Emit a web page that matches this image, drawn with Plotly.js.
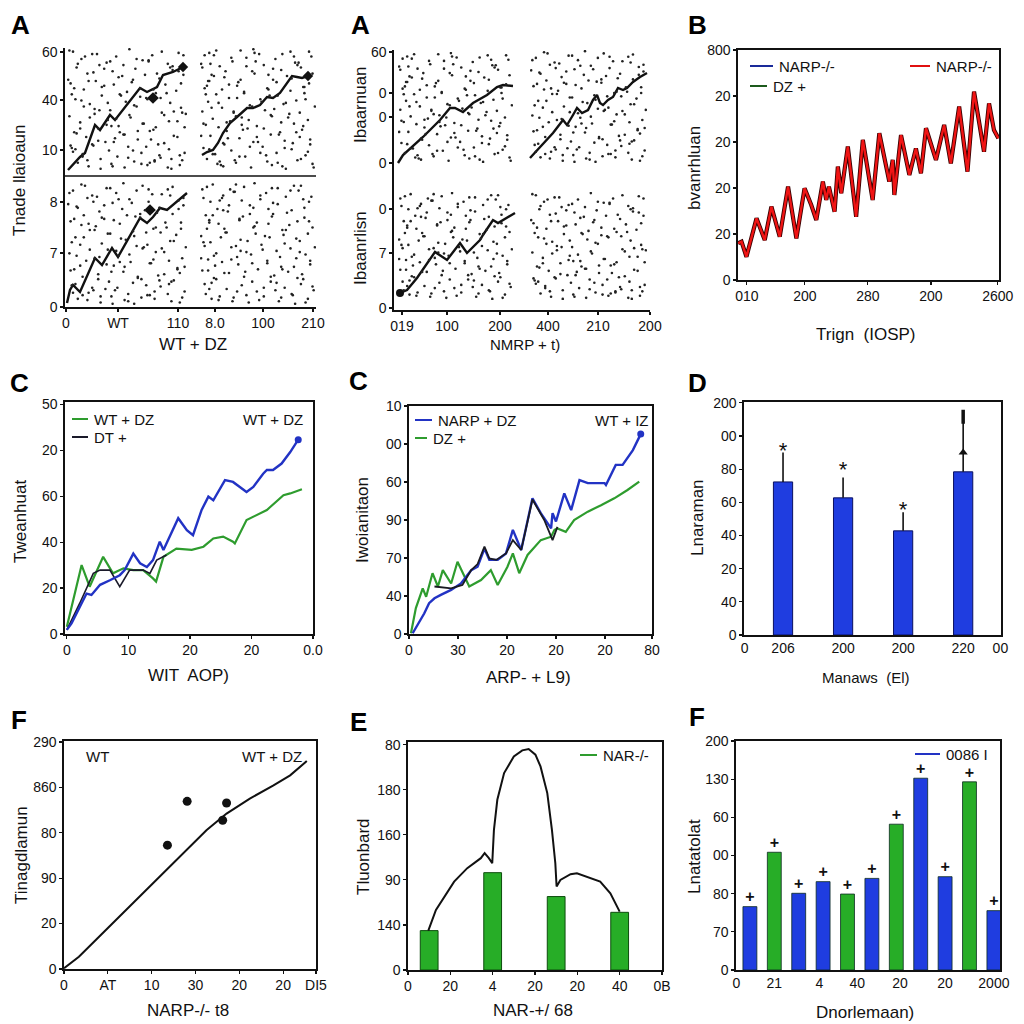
<!DOCTYPE html>
<html><head><meta charset="utf-8">
<script src="https://cdn.plot.ly/plotly-3.0.1.min.js"></script>
<style>html,body{margin:0;padding:0;background:#fff}#chart{width:1024px;height:1024px}</style>
</head><body><div id="chart"></div>
<script>
// ---------------- DATA ----------------
// Panel A (left) – main axes values
const a1TLx = [3,15,20,30,35,45,50,75,82,92,98,108,118];
const a1TLy = [137,150,154,182,177,192,187,219,215,220,232,235,240];
const a1TRx = [137,142,148,153,158,165,172,182,188,195,202,208,215,222,227,232,237,243];
const a1TRy = [152,155,157,164,174,184,190,199,199,202,210,209,214,224,231,230,229,231];
const a1BLx = [2,5,8,15,30,37,47,53,75,82,88,95,102,122];
const a1BLy = [4,17,22,15,49,42,59,50,89,84,90,99,97,114];
const a1BlobX = [88,85];
const a1BlobY = [209,97];
const a1Divider = 131;
const a1XTicks = [1,53,113,150,198,248];
const a1XLabels = ["0","WT","110","8.0","100","210"];
const a1YTicks = [0,54,105,157,207,255];
const a1YLabels = ["0","7","8","10","40","60"];

// Panel A (right)
const a2TLx = [4,9,29,46,56,61,69,79,93,103,109,119];
const a2TLy = [147,155,173,190,202,202,198,207,215,223,225,224];
const a2TRx = [136,146,159,169,173,179,183,188,194,199,203,206,209,214,219,224,229,233,239,246,253];
const a2TRy = [152,163,177,190,185,195,202,197,200,210,215,207,205,210,213,222,220,222,228,233,237];
const a2BLx = [6,13,23,33,41,53,66,73,86,89,99,104,113,121];
const a2BLy = [17,20,32,47,58,50,67,57,70,75,90,87,92,97];
const a2XTicks = [8,53,106,154,204,256];
const a2XLabels = ["019","100","200","400","210","200"];
const a2YTicks = [2,57,101,147,193,217,258];
const a2YLabels = ["0","7","0","0","0","0","60"];

// scatter texture (unit square) for the dotted sub-panels
const dotsU1 = [.05,.12,.21,.33,.41,.52,.63,.71,.84,.93,.08,.17,.27,.38,.46,.57,.68,.77,.88,.97,.03,.14,.24,.31,.44,.55,.61,.74,.82,.91,.07,.19,.29,.36,.49,.58,.66,.79,.86,.95,.02,.11,.23,.34,.43,.53,.64,.72,.81,.92,.06,.16,.26,.39,.47,.59,.69,.76,.89,.98,.04,.13,.22,.35,.42,.51,.62,.73,.85,.94,.09,.18,.28,.37,.48,.56,.67,.78,.87,.96];
const dotsV1 = [.97,.91,.95,.88,.93,.99,.90,.94,.87,.96,.84,.79,.86,.81,.77,.83,.89,.75,.82,.78,.71,.66,.73,.69,.62,.74,.67,.63,.70,.65,.58,.54,.61,.49,.56,.52,.59,.47,.55,.51,.44,.39,.46,.41,.36,.43,.38,.33,.45,.40,.31,.27,.34,.23,.29,.25,.32,.21,.28,.35,.18,.13,.20,.16,.11,.19,.14,.08,.17,.12,.06,.03,.09,.05,.02,.07,.04,.10,.01,.08];
const dotsU2 = [.15,.02,.36,.25,.58,.47,.79,.68,.97,.88,.22,.09,.43,.31,.65,.54,.86,.75,.01,.93,.29,.18,.50,.39,.72,.61,.95,.83,.06,.12,.34,.45,.23,.67,.56,.89,.78,.99,.14,.04,.41,.27,.63,.52,.85,.74,.96,.33,.19,.08,.48,.37,.70,.59,.92,.81,.11,.26,.03,.44,.55,.32,.77,.66,.98,.87,.21,.13,.07,.40,.62,.51,.84,.73,.94,.28,.17,.05,.38,.69];
const dotsV2 = [.93,.98,.89,.95,.91,.86,.97,.90,.94,.85,.80,.87,.76,.83,.78,.72,.84,.79,.74,.81,.68,.73,.64,.70,.66,.60,.71,.63,.67,.57,.55,.61,.50,.58,.53,.48,.59,.46,.52,.62,.42,.49,.38,.45,.40,.35,.47,.37,.43,.30,.29,.36,.25,.32,.27,.22,.34,.24,.20,.31,.16,.23,.12,.19,.14,.09,.21,.11,.17,.26,.05,.10,.02,.07,.04,.01,.08,.15,.03,.06];

// Panel B
const bX = [-6.9,-4.2,-0.3,7.7,14.2,19.5,26.1,32.7,39.3,45.8,51.1,55.1,60.3,63.0,65.1,69.6,72.2,74.9,80.1,86.7,92.0,99.8,105.1,113.0,115.7,117.0,122.3,128.9,134.1,138.1,142.1,150.0,156.5,161.8,168.4,175.0,180.2,188.1,192.1,196.0,199.5];
const bY = [16.0,16.7,10.1,26.8,17.4,31.9,18.8,40.6,18.1,39.9,32.6,26.1,42.8,34.8,40.6,29.7,49.3,37.7,58.0,27.5,60.9,34.8,63.8,42.8,52.2,37.0,63.0,45.7,57.2,46.4,66.0,52.2,67.4,50.7,75.4,47.1,81.9,55.8,76.8,65.2,61.6];
const bXTicks = [0,46,96,146,199];
const bXLabels = ["010","200","280","200","2600"];
const bYTicks = [0,20,40,60,80,100];
const bYLabels = ["0","20","20","20","20","800"];

// Panel C (left)
const c1BlueX = [0,0.76,2.1,3.2,4.0,5.4,7.0,8.6,9.4,10.8,11.9,13.0,14.0,15.1,15.7,16.7,18.1,19.5,20.5,21.9,23.0,23.8,25.7,27.0,29.2,30.3,31.9,32.5,33.5,34.9,36.3,37.6];
const c1BlueY = [0.9,2.3,5.9,8.8,8.5,10.7,11.7,12.8,13.9,17.5,15.4,14.6,16.1,20.1,18.3,21.2,25.2,22.6,21.5,27.0,29.9,29.1,33.5,33.1,30.9,32.0,34.9,35.7,35.7,37.1,39.6,42.3];
const c1GreenX = [0,0.76,2.4,3.7,5.9,7.5,9.2,10.8,12.4,14.0,14.5,15.7,16.2,17.8,20.3,21.1,22.2,23.8,25.4,27.0,27.3,29.2,30.3,32.5,35.2,36.3,38.2];
const c1GreenY = [1.6,5.9,15.0,10.3,16.8,13.2,14.3,13.9,13.9,12.1,11.4,16.8,17.2,18.6,18.3,18.6,19.0,20.8,21.2,20.1,19.7,24.8,25.5,27.0,30.2,30.6,31.5];
const c1DarkX = [0,2.1,4.3,5.4,7.0,8.6,10.2,12.4,13.5,14.6,16.2];
const c1DarkY = [0.9,6.7,13.2,13.9,13.9,10.3,13.9,13.9,13.2,16.1,17.2];
const c1XTicks = [0,10,20,30,40];
const c1XLabels = ["0","10","20","20","0.0"];
const c1YTicks = [0,10,20,30,40,50];
const c1YLabels = ["0","20","40","60","20","50"];

// Panel C (right)
const c2BlueX = [0.75,1.8,3.1,4.1,5.2,6.5,8.6,10.6,12.7,14.0,15.4,16.4,18.1,19.8,21.2,22.9,25.2,26.9,29.0,29.3,30.0,31.7,33.1,34.8,36.5,38.5,39.9,40.2,42.2,43.6,45.7,47.3];
const c2BlueY = [0.2,2.4,5.4,8.1,9.4,10.3,11.6,13.3,16.8,17.7,22.5,19.5,19.5,21.2,27.4,22.1,35.7,31.8,27.8,31.8,29.6,37.0,32.6,40.5,39.7,39.7,39.7,39.2,44.5,44.5,48.4,52.6];
const c2GreenX = [0.4,1.4,2.8,3.5,4.8,5.9,6.9,8.6,9.9,12.3,14.7,16.7,18.1,20.1,21.2,22.5,24.2,26.9,29.0,29.7,30.3,32.0,33.7,36.5,39.2,41.9,44.6,47.0];
const c2GreenY = [0.2,6.8,12.0,9.8,16.0,12.5,16.8,13.3,19.0,12.5,14.2,16.8,12.9,17.7,21.2,16.0,20.8,24.7,25.6,27.4,27.8,26.9,30.0,32.2,33.9,35.7,37.9,40.1];
const c2DarkX = [5.2,8.6,10.9,12.7,14.0,15.4,16.4,17.8,19.8,21.2,22.9,25.2,27.6,29.3,30.3];
const c2DarkY = [12.5,12.0,12.9,16.8,18.4,23.0,19.9,19.5,21.2,24.7,22.1,35.4,30.0,24.7,28.2];
const c2XTicks = [0,10,20,30,40,49.6];
const c2XLabels = ["0","30","20","20","20","80"];
const c2YTicks = [0,10,20,30,40,50,60];
const c2YLabels = ["0","40","70","90","60","00","10"];

// Panel D
const dX = [1,2,3,4];
const dVal = [92.3,82.7,62.8,98.4];
const dErrTop = [110,95,74,134.6];
const dStarX = [1,2,3];
const dStarY = [110.3,98.6,74.4];
const dArrowY = [110];
const dXTicks = [0.36,1,2,3,4,4.62];
const dXLabels = ["0","206","200","200","220","00"];
const dYTicks = [0,20,40,60,80,100,120,140];
const dYLabels = ["0","40","20","40","60","80","00","200"];

// Panel F (left)
const f1LineX = [0,0.34,0.80,1.57,2.18,2.79,3.25,3.71,4.24,4.78,5.16,5.54];
const f1LineY = [0.8,13.5,35.5,72.2,101.4,130.8,152.7,171.1,187.6,202.2,213.2,228.9];
const f1PtX = [2.36,2.81,3.62,3.71];
const f1PtY = [136.3,184.6,163.7,182.8];
const f1XTicks = [0,1,2,3,4,5,5.75];
const f1XLabels = ["0","AT","10","30","20","20","DI5"];
const f1YTicks = [0,50,100,150,200,250];
const f1YLabels = ["0","20","90","80","860","290"];

// Panel E
const eBarX = [0.5,2,3.5,5];
const eBarY = [43.7,108,81.5,64];
const eCurveX = [0.48,0.66,1.09,1.40,1.72,1.81,1.91,1.99,2.03,2.11,2.27,2.50,2.70,2.85,3.01,3.13,3.29,3.40,3.48,3.51,3.60,3.84,3.99,4.23,4.54,4.78,5.00];
const eCurveY = [43.7,66.7,98.1,113,124.1,129.6,124.1,118.5,155.6,188.9,218.5,237,243.7,245.2,238.9,225.9,196.3,155.6,118.5,92.6,100,106.3,107.4,103.7,98.1,85.2,64.8];
const eXTicks = [0,1,2,3,4,5,6];
const eXLabels = ["0","20","4","20","20","40","0B"];
const eYTicks = [0,50,100,150,200,250];
const eYLabels = ["0","140","90","160","180","80"];

// Panel F (right)
const f2X = [0,1,2,3,4,5,6,7,8,9,10];
const f2Val = [33.2,61.7,40.2,46.3,39.8,48.0,76.4,100.5,48.9,98.6,31.1];
const f2Plus = [37.6,66.2,44.6,50.8,44.2,52.4,80.8,104.6,53.3,102.8,35.5];
const f2Group = ["b","g","b","b","g","b","g","b","b","g","b"];
const f2XTicks = [-0.55,1,2.85,4.4,6.15,8,10];
const f2XLabels = ["0","21","4","40","20","20","2000"];
const f2YTicks = [0,20,40,60,80,100,120];
const f2YLabels = ["0","70","80","00","60","130","200"];

// ---------------- STYLE ----------------
const FONT = 'Liberation Sans, Arial, Helvetica, sans-serif';
const BLUE = '#2233c4', GREEN = '#2e9c2e', BLUEBAR = '#1f3de0', GREENBAR = '#27ad27';
const dxp = (a,b) => [a/1024, b/1024];
const dyp = (top,bottom) => [1-bottom/1024, 1-top/1024];

function axis(o){
  return Object.assign({showgrid:false, zeroline:false, showline:true, linecolor:'#111', linewidth:1.6,
    ticks:'outside', ticklen:3, tickwidth:1.2, tickcolor:'#111', tickmode:'array',
    tickfont:{family:FONT, size:14, color:'#111'}, fixedrange:true}, o);
}
function hidden(domX, domY, anchor){
  return [{domain:domX, range:[0,1], visible:false, anchor:'y'+anchor, fixedrange:true},
          {domain:domY, range:[0,1], visible:false, anchor:'x'+anchor, fixedrange:true}];
}

const layout = {
  width:1024, height:1024, margin:{l:0,r:0,t:0,b:0},
  paper_bgcolor:'#fff', plot_bgcolor:'rgba(0,0,0,0)', showlegend:false,
  font:{family:FONT, color:'#111'},
  xaxis: axis({domain:dxp(65,316), range:[0,251], anchor:'y', tickvals:a1XTicks, ticktext:a1XLabels}),
  yaxis: axis({domain:dyp(48,307), range:[0,259], anchor:'x', tickvals:a1YTicks, ticktext:a1YLabels}),
  xaxis2: axis({domain:dxp(394,650), range:[0,256], anchor:'y2', tickvals:a2XTicks, ticktext:a2XLabels}),
  yaxis2: axis({domain:dyp(50,310), range:[0,260], anchor:'x2', tickvals:a2YTicks, ticktext:a2YLabels}),
  xaxis3: axis({domain:dxp(738,999), range:[-7,200], anchor:'y3', mirror:true, tickvals:bXTicks, ticktext:bXLabels}),
  yaxis3: axis({domain:dyp(50,280), range:[0,100], anchor:'x3', mirror:true, tickvals:bYTicks, ticktext:bYLabels}),
  xaxis4: axis({domain:dxp(65,313), range:[-0.3,40], anchor:'y4', mirror:true, tickvals:c1XTicks, ticktext:c1XLabels}),
  yaxis4: axis({domain:dyp(402,634), range:[0,50.5], anchor:'x4', mirror:true, tickvals:c1YTicks, ticktext:c1YLabels}),
  xaxis5: axis({domain:dxp(409,652), range:[0,49.6], anchor:'y5', mirror:true, tickvals:c2XTicks, ticktext:c2XLabels}),
  yaxis5: axis({domain:dyp(406,634), range:[0,60], anchor:'x5', mirror:true, tickvals:c2YTicks, ticktext:c2YLabels}),
  xaxis6: axis({domain:dxp(744,1001), range:[0.35,4.63], anchor:'y6', mirror:true, ticks:'', tickvals:dXTicks, ticktext:dXLabels}),
  yaxis6: axis({domain:dyp(402,635), range:[0,140.5], anchor:'x6', mirror:true, tickvals:dYTicks, ticktext:dYLabels}),
  xaxis7: axis({domain:dxp(64,316), range:[0,5.75], anchor:'y7', mirror:true, tickvals:f1XTicks, ticktext:f1XLabels}),
  yaxis7: axis({domain:dyp(741,969), range:[0,251], anchor:'x7', mirror:true, tickvals:f1YTicks, ticktext:f1YLabels}),
  xaxis8: axis({domain:dxp(408,662), range:[0,6], anchor:'y8', mirror:true, tickvals:eXTicks, ticktext:eXLabels}),
  yaxis8: axis({domain:dyp(742,970), range:[0,253], anchor:'x8', mirror:true, tickvals:eYTicks, ticktext:eYLabels}),
  xaxis9: axis({domain:dxp(736,1000), range:[-0.57,10.25], anchor:'y9', mirror:true, ticks:'', tickvals:f2XTicks, ticktext:f2XLabels}),
  yaxis9: axis({domain:dyp(741,970), range:[0,120], anchor:'x9', mirror:true, tickvals:f2YTicks, ticktext:f2YLabels}),
  shapes:[], annotations:[]
};

// dotted sub-panels (A left: 10-13, A right: 14-17)
const subDomains = [
  [dxp(67,187), dyp(48,170)], [dxp(200,316), dyp(48,170)], [dxp(67,187), dyp(182,305)], [dxp(200,316), dyp(182,305)],
  [dxp(398,513), dyp(52,163)], [dxp(530,647), dyp(50,163)], [dxp(398,513), dyp(192,300)], [dxp(530,647), dyp(192,300)]
];
const texVariants = [
  [[dotsU1,dotsV1],[dotsU2,dotsV2]],
  [[dotsV1,dotsU1],[dotsV2,dotsU2]],
  [[dotsU1,dotsV2],[dotsU2,dotsV1]],
  [[dotsV2,dotsU1],[dotsV1,dotsU2]]
];
const traces = [];
subDomains.forEach((d,i) => {
  const n = 10+i;
  const [ax, ay] = hidden(d[0], d[1], n);
  layout['xaxis'+n] = ax; layout['yaxis'+n] = ay;
  texVariants[(i+ (i>=4?1:0))%4].forEach(t => {
    traces.push({type:'scatter', mode:'markers', x:t[0], y:t[1], xaxis:'x'+n, yaxis:'y'+n,
      marker:{size:2.6, color:'#222'}, hoverinfo:'skip'});
  });
});

function line(x,y,xa,ya,color,width,extra){
  return Object.assign({type:'scatter', mode:'lines', x:x, y:y, xaxis:xa, yaxis:ya,
    line:{color:color, width:width}, hoverinfo:'skip'}, extra||{});
}

// Panel A left
traces.push(line([0,251],[a1Divider,a1Divider],'x','y','#111',1.6));
traces.push(line(a1TLx,a1TLy,'x','y','#111',2.4));
traces.push(line(a1TRx,a1TRy,'x','y','#111',2.4));
traces.push(line(a1BLx,a1BLy,'x','y','#111',2.4));
traces.push({type:'scatter', mode:'markers', x:[a1TLx[a1TLx.length-1], a1TRx[a1TRx.length-1]], y:[a1TLy[a1TLy.length-1], a1TRy[a1TRy.length-1]],
  xaxis:'x', yaxis:'y', marker:{symbol:'diamond', size:8, color:'#111'}, hoverinfo:'skip'});
traces.push({type:'scatter', mode:'markers', x:a1BlobX, y:a1BlobY, xaxis:'x', yaxis:'y',
  marker:{symbol:'diamond', size:9, color:'#111'}, hoverinfo:'skip'});

// Panel A right
traces.push(line(a2TLx,a2TLy,'x2','y2','#111',2.4));
traces.push(line(a2TRx,a2TRy,'x2','y2','#111',2.4));
traces.push(line(a2BLx,a2BLy,'x2','y2','#111',2.4));
traces.push({type:'scatter', mode:'markers', x:[a2BLx[0]], y:[a2BLy[0]], xaxis:'x2', yaxis:'y2',
  marker:{size:8, color:'#111'}, hoverinfo:'skip'});

// Panel B
traces.push(line(bX,bY,'x3','y3','#3a0000',4.2));
traces.push(line(bX,bY,'x3','y3','#f01414',2.4));

// Panel C left
traces.push(line(c1GreenX,c1GreenY,'x4','y4',GREEN,2.2));
traces.push(line(c1DarkX,c1DarkY,'x4','y4','#1a1a2a',1.6));
traces.push(line(c1BlueX,c1BlueY,'x4','y4',BLUE,2.4));
traces.push({type:'scatter', mode:'markers', x:[c1BlueX[c1BlueX.length-1]], y:[c1BlueY[c1BlueY.length-1]], xaxis:'x4', yaxis:'y4',
  marker:{size:7, color:BLUE}, hoverinfo:'skip'});

// Panel C right
traces.push(line(c2GreenX,c2GreenY,'x5','y5',GREEN,2.2));
traces.push(line(c2BlueX,c2BlueY,'x5','y5',BLUE,2.4));
traces.push(line(c2DarkX,c2DarkY,'x5','y5','#1a1a22',1.8));
traces.push({type:'scatter', mode:'markers', x:[c2BlueX[c2BlueX.length-1]], y:[c2BlueY[c2BlueY.length-1]], xaxis:'x5', yaxis:'y5',
  marker:{size:7, color:BLUE}, hoverinfo:'skip'});

// Panel D
traces.push({type:'bar', x:dX, y:dVal, xaxis:'x6', yaxis:'y6', width:0.32,
  marker:{color:BLUEBAR, line:{color:'#0a1060', width:1}},
  error_y:{type:'data', symmetric:false, array:dErrTop.map((t,i)=>t-dVal[i]), arrayminus:dVal.map(()=>0),
    color:'#111', thickness:1.6, width:0}, hoverinfo:'skip'});
traces.push({type:'scatter', mode:'text', x:dStarX, y:dStarY, text:dStarX.map(()=>'*'), xaxis:'x6', yaxis:'y6',
  textfont:{family:FONT, size:22, color:'#111'}, textposition:'middle center', hoverinfo:'skip'});
traces.push({type:'scatter', mode:'markers', x:[dX[3]], y:dArrowY, xaxis:'x6', yaxis:'y6',
  marker:{symbol:'triangle-up', size:8, color:'#111'}, hoverinfo:'skip'});
traces.push({type:'scatter', mode:'markers', x:[dX[3]], y:[dErrTop[3]-3], xaxis:'x6', yaxis:'y6',
  marker:{symbol:'line-ns', size:10, line:{width:3.5, color:'#111'}}, hoverinfo:'skip'});

// Panel F left
traces.push(line(f1LineX,f1LineY,'x7','y7','#111',2));
traces.push({type:'scatter', mode:'markers', x:f1PtX, y:f1PtY, xaxis:'x7', yaxis:'y7',
  marker:{size:9, color:'#111'}, hoverinfo:'skip'});

// Panel E
traces.push({type:'bar', x:eBarX, y:eBarY, xaxis:'x8', yaxis:'y8', width:0.42,
  marker:{color:GREENBAR, line:{color:'#0d4d0d', width:1}}, hoverinfo:'skip'});
traces.push(line(eCurveX,eCurveY,'x8','y8','#111',2));

// Panel F right
traces.push({type:'bar', x:f2X, y:f2Val, xaxis:'x9', yaxis:'y9', width:0.57,
  marker:{color:f2Group.map(g => g==='b'?BLUEBAR:GREENBAR), line:{color:'#0a2a20', width:0.8}}, hoverinfo:'skip'});
traces.push({type:'scatter', mode:'text', x:f2X, y:f2Plus, text:f2X.map(()=>'+'), xaxis:'x9', yaxis:'y9',
  textposition:'middle center', cliponaxis:false,
  textfont:{family:FONT, size:16, color:'#111', weight:'bold'}, hoverinfo:'skip'});

// ---------------- ANNOTATIONS ----------------
function ann(text, x, y, o){
  layout.annotations.push(Object.assign({text:text, xref:'paper', yref:'paper', x:x/1024, y:1-y/1024,
    xanchor:'center', yanchor:'middle', showarrow:false, font:{family:FONT, size:17, color:'#111'}}, o||{}));
}
function rot(text, x, y){ ann(text, x, y, {textangle:-90}); }
function legendEntry(x0, x1, y, color, text){
  layout.shapes.push({type:'line', xref:'paper', yref:'paper', x0:x0/1024, x1:x1/1024, y0:1-y/1024, y1:1-y/1024,
    line:{color:color, width:2}});
  ann(text, x1+4, y, {xanchor:'left', font:{family:FONT, size:15, color:'#111'}});
}

// panel letters
[['A',20,25],['A',360,25],['B',697,25],['C',19,383],['C',358,381],['D',697,383],['F',19,720],['E',358,722],['F',697,717]]
  .forEach(l => ann(l[0], l[1], l[2], {font:{family:FONT, size:26, color:'#000', weight:'bold'}}));

// axis titles
ann('WT + DZ', 193, 344); rot('Tnade llaioaun', 19, 180);
ann('NMRP + t)', 525, 344, {font:{family:FONT, size:15, color:'#111'}}); rot('Ibaarnuan', 360, 105); rot('Ibaanrlisn', 360, 248);
ann('Trign  (IOSP)', 866, 334); rot('bvanrhluan', 694, 168);
ann('WIT  AOP)', 188, 675); rot('Tweanhuat', 20, 522);
ann('ARP- + L9)', 528, 677); rot('Iwoianitaon', 362, 520);
ann('Manaws  (El)', 866, 677, {font:{family:FONT, size:15, color:'#111'}}); rot('Lnaraman', 697, 518);
ann('NARP-/- t8', 188, 1010); rot('Tinagdlamun', 21, 855);
ann('NAR-+/ 68', 533, 1010); rot('Tluonbard', 363, 857);
ann('Dnorlemaan)', 865, 1012); rot('Lnatatolat', 694, 857);

// legends & in-plot labels
legendEntry(750, 773, 66, '#1a2a99', 'NARP-/-');
legendEntry(750, 767, 86, '#1d5a1d', 'DZ +');
legendEntry(910, 930, 66, '#e01010', 'NARP-/-');
legendEntry(72, 88, 419, GREEN, 'WT + DZ');
legendEntry(72, 88, 437, '#1a1a2a', 'DT +');
ann('WT + DZ', 305, 419, {xanchor:'right', font:{family:FONT, size:15, color:'#111'}});
legendEntry(415, 432, 420, BLUE, 'NARP + DZ');
legendEntry(415, 427, 438, GREEN, 'DZ +');
ann('WT + IZ', 650, 420, {xanchor:'right', font:{family:FONT, size:15, color:'#111'}});
ann('WT', 97, 756, {font:{family:FONT, size:15, color:'#111'}});
ann('WT + DZ', 272, 756, {font:{family:FONT, size:15, color:'#111'}});
legendEntry(580, 597, 755, GREEN, 'NAR-/-');
legendEntry(915, 940, 754, BLUE, '0086 I');

Plotly.newPlot('chart', traces, layout, {staticPlot:true, displayModeBar:false});
</script></body></html>
